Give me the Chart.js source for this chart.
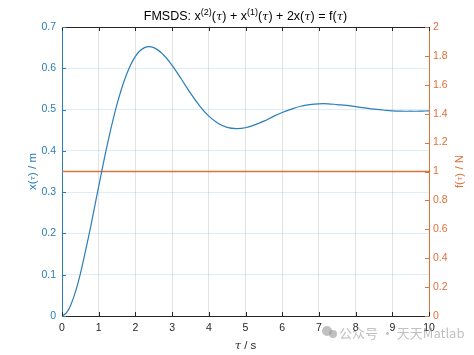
<!DOCTYPE html>
<html>
<head>
<meta charset="utf-8">
<script src="https://cdn.jsdelivr.net/npm/chart.js@4.4.1/dist/chart.umd.min.js"></script>
<style>
html,body{margin:0;padding:0;background:#fff;}
#wrap{width:474px;height:355px;position:relative;}
</style>
</head>
<body>
<div id="wrap"><canvas id="c" width="474" height="355"></canvas></div>
<script>
// ---- data ----
const tau = [0,0.125,0.25,0.375,0.5,0.75,1,1.25,1.5,1.75,2,2.25,2.5,2.75,3,3.25,3.5,3.75,4,4.25,4.5,4.75,5,5.25,5.5,5.75,6,6.25,6.5,6.75,7,7.25,7.5,7.75,8,8.25,8.5,8.75,9,9.25,9.5,9.75,10];
const xDisp = [0,0.008,0.029,0.061,0.102,0.203,0.314,0.421,0.513,0.583,0.629,0.650,0.650,0.634,0.607,0.574,0.540,0.509,0.484,0.467,0.457,0.454,0.456,0.463,0.472,0.483,0.493,0.501,0.508,0.512,0.514,0.514,0.512,0.510,0.507,0.504,0.501,0.499,0.497,0.496,0.496,0.496,0.497];
const tauF = [0,10];
const force = [1,1];
const xTicks = [0,1,2,3,4,5,6,7,8,9,10];
const yLeftTicks = [0,0.1,0.2,0.3,0.4,0.5,0.6,0.7];
const yRightTicks = [0,0.2,0.4,0.6,0.8,1,1.2,1.4,1.6,1.8,2];

const BLUE = '#2B7EB9', ORANGE = '#E0703C', DARK = '#262626';
const FAM = '"Liberation Sans", Arial, Helvetica, sans-serif';

function drawRuns(ctx, runs, cx, cy){
  let w = 0;
  runs.forEach(r => { ctx.font = r.font; r.w = ctx.measureText(r.t).width; w += r.w; });
  let x = cx - w/2;
  runs.forEach(r => { ctx.font = r.font; ctx.fillText(r.t, x, cy + (r.dy||0)); x += r.w; });
}

const fmt = v => String(Math.round(v*10)/10);

const matlabPlugin = {
  id: 'matlab',
  afterDraw(chart){
    const {ctx, chartArea: a, scales} = chart;
    ctx.save();
    ctx.lineWidth = 1;
    // top box line
    ctx.strokeStyle = DARK;
    ctx.beginPath(); ctx.moveTo(a.left, a.top + 0.5); ctx.lineTo(a.right, a.top + 0.5); ctx.stroke();
    // inward x ticks (bottom and top)
    xTicks.forEach(v => {
      const px = Math.round(scales.x.getPixelForValue(v)) + 0.5;
      ctx.beginPath();
      ctx.moveTo(px, a.bottom); ctx.lineTo(px, a.bottom - 4);
      ctx.moveTo(px, a.top); ctx.lineTo(px, a.top + 4);
      ctx.stroke();
    });
    // left y ticks
    ctx.strokeStyle = BLUE;
    yLeftTicks.forEach(v => {
      const py = Math.round(scales.y.getPixelForValue(v)) + 0.5;
      ctx.beginPath(); ctx.moveTo(a.left, py); ctx.lineTo(a.left + 4, py); ctx.stroke();
    });
    // right y ticks
    ctx.strokeStyle = ORANGE;
    yRightTicks.forEach(v => {
      const py = Math.round(scales.y1.getPixelForValue(v)) + 0.5;
      ctx.beginPath(); ctx.moveTo(a.right, py); ctx.lineTo(a.right - 4, py); ctx.stroke();
    });

    // title
    ctx.fillStyle = '#000';
    ctx.textBaseline = 'alphabetic';
    ctx.textAlign = 'left';
    const N = '12.5px ' + FAM, S = '9px ' + FAM, T = 'italic 11.5px "DejaVu Serif", serif';
    drawRuns(ctx, [
      {t:'FMSDS: x', font:N}, {t:'(2)', font:S, dy:-5}, {t:'(', font:N}, {t:'τ', font:T}, {t:') + x', font:N},
      {t:'(1)', font:S, dy:-5}, {t:'(', font:N}, {t:'τ', font:T}, {t:') + 2x(', font:N}, {t:'τ', font:T},
      {t:') = f(', font:N}, {t:'τ', font:T}, {t:')', font:N}
    ], (a.left + a.right)/2, 20);

    // x label
    ctx.fillStyle = DARK;
    drawRuns(ctx, [
      {t:'τ', font:'italic 11.5px "DejaVu Serif", serif'}, {t:' / s', font:'11.5px ' + FAM}
    ], (a.left + a.right)/2, 349);

    // left y label
    const L = '11.5px ' + FAM, LT = 'italic 8px "DejaVu Serif", serif';
    ctx.save();
    ctx.translate(33, (a.top + a.bottom)/2);
    ctx.rotate(-Math.PI/2);
    ctx.textBaseline = 'middle';
    ctx.fillStyle = BLUE;
    drawRuns(ctx, [{t:'x(', font:L}, {t:'τ', font:LT}, {t:') / m', font:L}], 0, 0);
    ctx.restore();

    // right y label
    ctx.save();
    ctx.translate(460, (a.top + a.bottom)/2);
    ctx.rotate(-Math.PI/2);
    ctx.textBaseline = 'middle';
    ctx.fillStyle = ORANGE;
    drawRuns(ctx, [{t:'f(', font:L}, {t:'τ', font:LT}, {t:') / N', font:L}], 0, 0);
    ctx.restore();

    // watermark
    ctx.fillStyle = 'rgba(150,150,150,0.6)';
    ctx.beginPath(); ctx.arc(327, 331, 5, 0, Math.PI*2); ctx.fill();
    ctx.beginPath(); ctx.arc(333, 334, 4, 0, Math.PI*2); ctx.fill();
    ctx.font = '13px "Noto Sans CJK SC", sans-serif';
    ctx.textBaseline = 'middle';
    ctx.fillText('公众号 · 天天Matlab', 339, 333);
    ctx.restore();
  }
};

new Chart(document.getElementById('c'), {
  type: 'line',
  data: {
    datasets: [
      {data: tau.map((t,i) => ({x:t, y:xDisp[i]})), yAxisID:'y', borderColor:BLUE, borderWidth:1.2,
       pointRadius:0, tension:0.4, fill:false},
      {data: tauF.map((t,i) => ({x:t, y:force[i]})), yAxisID:'y1', borderColor:ORANGE, borderWidth:1.4,
       pointRadius:0, fill:false}
    ]
  },
  options: {
    responsive:false, animation:false, devicePixelRatio:1,
    layout:{padding:{top:27, left:0, right:0, bottom:0}},
    plugins:{legend:{display:false}, tooltip:{enabled:false}, title:{display:false}},
    scales:{
      x:{type:'linear', min:0, max:10,
         ticks:{stepSize:1, color:DARK, font:{size:10.5, family:FAM}, padding:6, maxRotation:0, callback:fmt},
         grid:{color:'rgba(38,38,38,0.13)', drawTicks:false},
         border:{color:DARK},
         afterFit(s){ s.height = 39; }},
      y:{position:'left', min:0, max:0.7,
         ticks:{stepSize:0.1, color:BLUE, font:{size:10.5, family:FAM}, padding:6, callback:fmt},
         grid:{color:'rgba(0,114,189,0.13)', drawTicks:false},
         border:{color:BLUE},
         afterFit(s){ s.width = 62; }},
      y1:{position:'right', min:0, max:2,
         ticks:{stepSize:0.2, color:ORANGE, font:{size:10.5, family:FAM}, padding:4, callback:fmt},
         grid:{display:false, drawTicks:false},
         border:{color:ORANGE},
         afterFit(s){ s.width = 45; }}
    }
  },
  plugins:[matlabPlugin]
});
</script>
</body>
</html>
